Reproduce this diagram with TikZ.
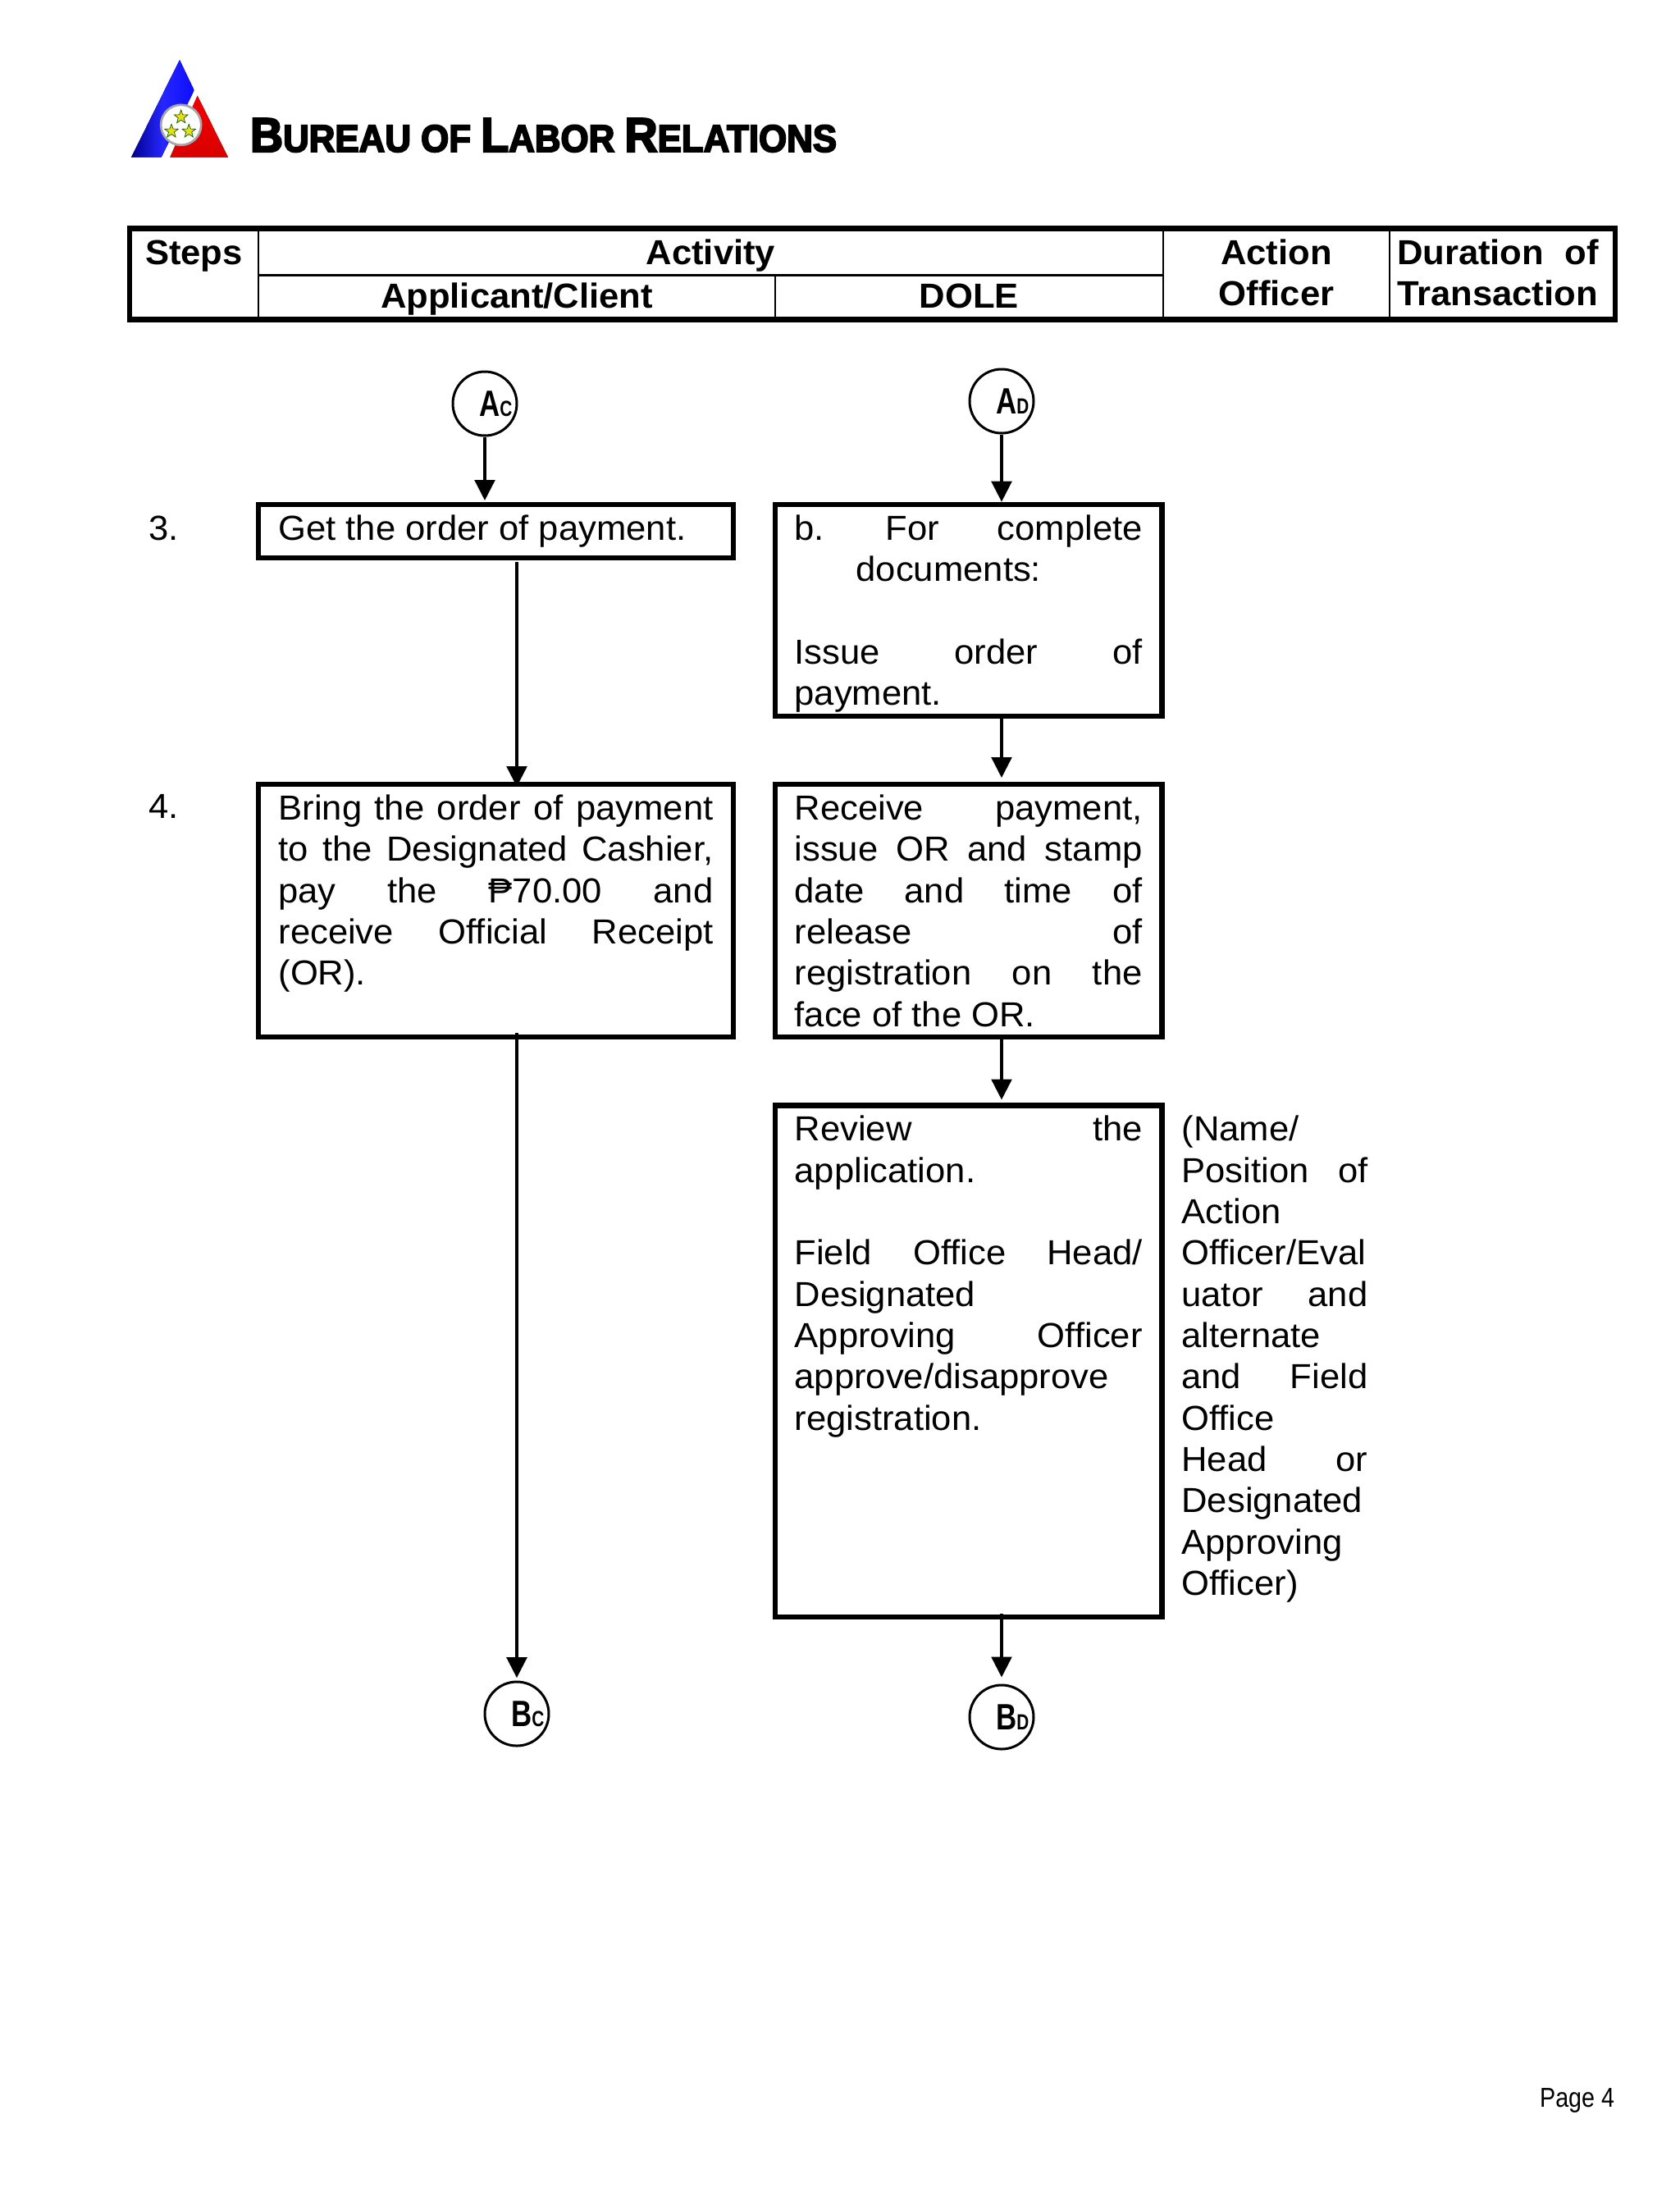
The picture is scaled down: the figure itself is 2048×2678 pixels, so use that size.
\documentclass[tikz,border=0pt]{standalone}
\usepackage{fontspec}
\setmainfont{Liberation Sans}[FakeStretch=1.03]
\newfontfamily\narrowFont{Liberation Sans}[FakeStretch=0.86]
\newfontfamily\circleFont{Liberation Sans}[FakeStretch=0.78]
\newfontfamily\titleFont{Liberation Sans}[FakeStretch=0.94, BoldFeatures={FakeBold=4}]
\usetikzlibrary{arrows.meta}
\usetikzlibrary{shapes.geometric}
\tolerance=10000
\hbadness=10000
\hyphenpenalty=10000

\begin{document}
\begin{tikzpicture}[x = 0.3pt, y = -0.3pt, font=\fontsize{12.7}{15.1}\selectfont]
	\tikzstyle{cellStyle}=[draw, line width = 0.7pt, anchor = north west, inner sep = 0pt, outer sep = 0pt, align = center, font=\fontsize{12.7}{15.1}\selectfont\bfseries]
	\tikzstyle{flowStyle}=[draw, line width = 1.9pt, anchor = north west, inner xsep = 7.35pt, inner ysep = 0pt, outer sep = 0pt, align = justify, text height = 13pt]
	\tikzstyle{leftStyle}=[flowStyle, text width = 159pt]
	\tikzstyle{rightStyle}=[flowStyle, inner xsep = 7.1pt, text width = 127.2pt]
	\tikzstyle{circleStyle}=[shape = circle, draw, line width = 0.9pt, minimum size = 23.4pt, inner sep = 0pt, font=\circleFont\fontsize{13.4}{15.1}\selectfont\bfseries]
	\tikzstyle{plainStyle}=[anchor = base west, inner sep = 0pt, outer sep = 0pt]
	\tikzstyle{arrowStyle}=[line width = 1.05pt, -{Triangle[length = 7.5pt, width = 7.4pt]}]
	\tikzstyle{starStyle}=[shape = star, star points = 5, star point ratio = 2.4, minimum size = 5.2pt, inner sep = 0pt, fill = yellow!90!black, draw = green!35!black, line width = 0.2pt]
	\useasboundingbox (0,0) rectangle (2048,2678);

	\fill[left color = blue!55!black, right color = blue!95!white, middle color = blue!85!white] (219,73) -- (236.7,110) -- (196.7,191.7) -- (160,191.7) -- cycle;
	\fill[top color = red!95!black, bottom color = red!85!black] (240.7,116.7) -- (278,191.7) -- (207.3,191.7) -- cycle;
	\draw[draw = black!35, fill = white, line width = 0.8pt] (220.7,152.3) circle [x radius = 24.5, y radius = 24.5];
	\node[starStyle] (starTop) at (220.7,142.7) {};
	\node[starStyle] (starLeft) at (209,160) {};
	\node[starStyle] (starRight) at (230.3,160) {};
	\node[plainStyle, font=\titleFont\bfseries] (bureauTitle) at (305,185) {\fontsize{17.7}{18}\selectfont B\fontsize{14}{18}\selectfont UREAU OF \fontsize{17.7}{18}\selectfont L\fontsize{14}{18}\selectfont ABOR \fontsize{17.7}{18}\selectfont R\fontsize{14}{18}\selectfont ELATIONS};

	\node[cellStyle, text width = 47.1pt, text height = 13.2pt, text depth = 20.1pt] (stepsCell) at (158,278.5) {Steps};
	\node[cellStyle, text width = 330.9pt, text height = 13.2pt, text depth = 3.9pt] (activityCell) at (315,278.5) {Activity};
	\node[cellStyle, text width = 189pt, text height = 12pt, text depth = 4.2pt] (applicantCell) at (315,335) {Applicant/Client};
	\node[cellStyle, text width = 141.9pt, text height = 12pt, text depth = 4.2pt] (doleCell) at (945,335) {DOLE};
	\node[cellStyle, text width = 82.8pt, text height = 13.2pt, text depth = 20.1pt] (officerCell) at (1418,278.5) {Action\\Officer};
	\node[cellStyle, text width = 77.1pt, inner xsep = 2.7pt, text height = 13.2pt, text depth = 20.1pt, align = left] (durationCell) at (1694,278.5) {\parbox[t]{73.8pt}{Duration\hfill of\\Transaction}};
	\draw[line width = 1.9pt] (stepsCell.north west) rectangle (durationCell.south east);

	\node[circleStyle] (acCircle) at (591,492) {\makebox[0pt]{\hspace*{8pt}A{\fontsize{8}{8}\selectfont C}}};
	\node[circleStyle] (adCircle) at (1221,489) {\makebox[0pt]{\hspace*{8pt}A{\fontsize{8}{8}\selectfont D}}};
	\node[circleStyle] (bcCircle) at (630,2089) {\makebox[0pt]{\hspace*{8pt}B{\fontsize{8}{8}\selectfont C}}};
	\node[circleStyle] (bdCircle) at (1221,2093) {\makebox[0pt]{\hspace*{8pt}B{\fontsize{8}{8}\selectfont D}}};

	\node[plainStyle] (stepThree) at (181,658) {3.};
	\node[plainStyle] (stepFour) at (181,997) {4.};

	\node[leftStyle, text depth = 6.5pt] (getBox) at (315,615) {Get the order of payment.};
	\node[rightStyle, text depth = 64.4pt] (completeBox) at (945,615) {b. \hfill For \hfill complete\\\hspace*{22.5pt}documents:\\\mbox{}\\Issue order of\linebreak payment.};
	\node[leftStyle, text depth = 79.4pt] (bringBox) at (315,956) {Bring the order of payment\linebreak to the Designated Cashier,\linebreak pay the ₱70.00 and\linebreak receive Official Receipt\linebreak (OR).};
	\node[rightStyle, text depth = 79.4pt] (receiveBox) at (945,956) {Receive payment,\linebreak issue OR and stamp\linebreak date and time of\linebreak release of\linebreak registration on the\linebreak face of the OR.};
	\node[rightStyle, text depth = 174pt] (reviewBox) at (945,1347.5) {Review the\linebreak application.\\\mbox{}\\Field Office Head/\linebreak Designated\\Approving Officer\linebreak approve/disapprove\\registration.};
	\node[plainStyle, text width = 68.1pt, anchor = north west, text height = 13pt, align = justify] (officerNote) at (1440.5,1347.5) {(Name/\\Position of\linebreak Action\\Officer/Eval\linebreak uator and\linebreak alternate\\and Field\linebreak Office\\Head or\linebreak Designated\\Approving\\Officer)};

	\node[plainStyle, anchor = base east, font=\narrowFont\fontsize{10}{12}\selectfont] (pageNumber) at (1968,2568) {Page 4};

	\draw[arrowStyle, shorten >= 1.5pt] (acCircle) -- (acCircle |- getBox.north);
	\draw[arrowStyle, shorten >= 1pt] (adCircle) -- (adCircle |- completeBox.north);
	\draw[arrowStyle, shorten <= 1.5pt, shorten >= -0.9pt] (bcCircle |- getBox.south) -- (bcCircle |- bringBox.north);
	\draw[arrowStyle, shorten >= 2.4pt] (adCircle |- completeBox.south) -- (adCircle |- receiveBox.north);
	\draw[arrowStyle, shorten >= 2.1pt] (adCircle |- receiveBox.south) -- (adCircle |- reviewBox.north);
	\draw[arrowStyle, shorten <= -1.5pt, shorten >= 1pt] (bcCircle |- bringBox.south) -- (bcCircle);
	\draw[arrowStyle, shorten <= -1.2pt, shorten >= 2.4pt] (bdCircle |- reviewBox.south) -- (bdCircle);
\end{tikzpicture}
\end{document}
